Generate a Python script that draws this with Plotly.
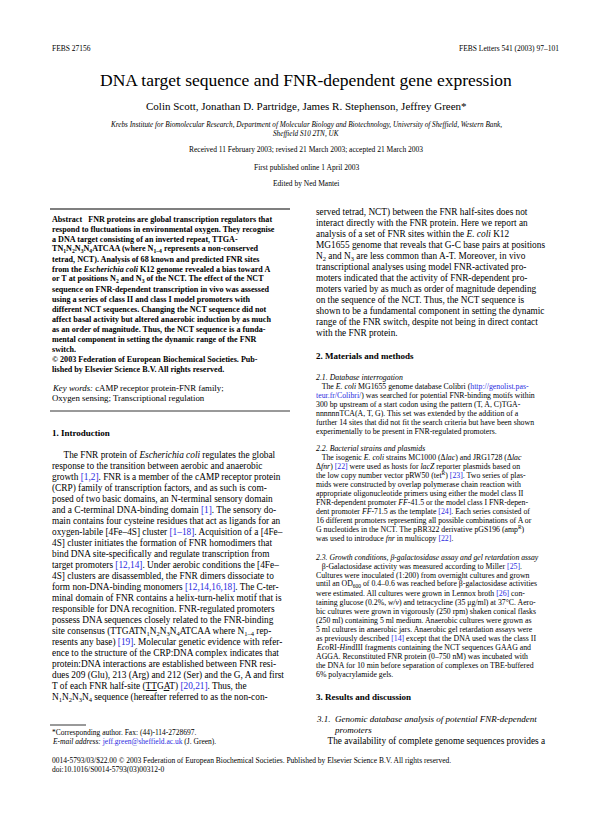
import plotly.graph_objects as go

BLUE = "#2a2ae0"
def L(t):
    return f"<span style='color:{BLUE}'>{t}</span>"
def N4():
    return "N<sub>1</sub>N<sub>2</sub>N<sub>3</sub>N<sub>4</sub>"

header_left = "FEBS 27156"
header_right = "FEBS Letters 541 (2003) 97–101"
title = "DNA target sequence and FNR-dependent gene expression"
authors = "Colin Scott, Jonathan D. Partridge, James R. Stephenson, Jeffrey Green*"
affil = ["<i>Krebs Institute for Biomolecular Research, Department of Molecular Biology and Biotechnology, University of Sheffield, Western Bank,</i>",
         "<i>Sheffield S10 2TN, UK</i>"]
dates = ["Received 11 February 2003; revised 21 March 2003; accepted 21 March 2003",
         "First published online 1 April 2003",
         "Edited by Ned Mantei"]

abstract_lines = [
    "<b>Abstract</b>   <b>FNR proteins are global transcription regulators that</b>",
    "respond to fluctuations in environmental oxygen. They recognise",
    "a DNA target consisting of an inverted repeat, TTGA-",
    "T" + N4() + "ATCAA (where N<sub>1–4</sub> represents a non-conserved",
    "tetrad, NCT). Analysis of 68 known and predicted FNR sites",
    "from the <i>Escherichia coli</i> K12 genome revealed a bias toward A",
    "or T at positions N<sub>2</sub> and N<sub>3</sub> of the NCT. The effect of the NCT",
    "sequence on FNR-dependent transcription in vivo was assessed",
    "using a series of class II and class I model promoters with",
    "different NCT sequences. Changing the NCT sequence did not",
    "affect basal activity but altered anaerobic induction by as much",
    "as an order of magnitude. Thus, the NCT sequence is a funda-",
    "mental component in setting the dynamic range of the FNR",
    "switch.",
    "© 2003 Federation of European Biochemical Societies. Pub-",
    "lished by Elsevier Science B.V. All rights reserved.",
]
keywords = ["<i>Key words:</i> cAMP receptor protein-FNR family;",
            "Oxygen sensing; Transcriptional regulation"]
intro_lines = [
    "     The FNR protein of <i>Escherichia coli</i> regulates the global",
    "response to the transition between aerobic and anaerobic",
    "growth " + L("[1,2]") + ". FNR is a member of the cAMP receptor protein",
    "(CRP) family of transcription factors, and as such is com-",
    "posed of two basic domains, an N-terminal sensory domain",
    "and a C-terminal DNA-binding domain " + L("[1]") + ". The sensory do-",
    "main contains four cysteine residues that act as ligands for an",
    "oxygen-labile [4Fe–4S] cluster " + L("[1–18]") + ". Acquisition of a [4Fe–",
    "4S] cluster initiates the formation of FNR homodimers that",
    "bind DNA site-specifically and regulate transcription from",
    "target promoters " + L("[12,14]") + ". Under aerobic conditions the [4Fe–",
    "4S] clusters are disassembled, the FNR dimers dissociate to",
    "form non-DNA-binding monomers " + L("[12,14,16,18]") + ". The C-ter-",
    "minal domain of FNR contains a helix-turn-helix motif that is",
    "responsible for DNA recognition. FNR-regulated promoters",
    "possess DNA sequences closely related to the FNR-binding",
    "site consensus (TTGAT" + N4() + "ATCAA where N<sub>1–4</sub> rep-",
    "resents any base) " + L("[19]") + ". Molecular genetic evidence with refer-",
    "ence to the structure of the CRP:DNA complex indicates that",
    "protein:DNA interactions are established between FNR resi-",
    "dues 209 (Glu), 213 (Arg) and 212 (Ser) and the G, A and first",
    "T of each FNR half-site (<u>TT</u>G<u>A</u>T) " + L("[20,21]") + ". Thus, the",
    N4() + " sequence (hereafter referred to as the non-con-",
]
footnote = ["*Corresponding author. Fax: (44)-114-2728697.",
            "<i>E-mail address:</i> " + L("jeff.green@sheffield.ac.uk") + " (J. Green)."]
footer = ["0014-5793/03/$22.00 © 2003 Federation of European Biochemical Societies. Published by Elsevier Science B.V. All rights reserved.",
          "doi:10.1016/S0014-5793(03)00312-0"]

right_top = [
    "served tetrad, NCT) between the FNR half-sites does not",
    "interact directly with the FNR protein. Here we report an",
    "analysis of a set of FNR sites within the <i>E. coli</i> K12",
    "MG1655 genome that reveals that G-C base pairs at positions",
    "N<sub>2</sub> and N<sub>3</sub> are less common than A-T. Moreover, in vivo",
    "transcriptional analyses using model FNR-activated pro-",
    "moters indicated that the activity of FNR-dependent pro-",
    "moters varied by as much as order of magnitude depending",
    "on the sequence of the NCT. Thus, the NCT sequence is",
    "shown to be a fundamental component in setting the dynamic",
    "range of the FNR switch, despite not being in direct contact",
    "with the FNR protein.",
]
sec21 = [
    "   The <i>E. coli</i> MG1655 genome database Colibri (" + L("http://genolist.pas-"),
    L("teur.fr/Colibri/") + ") was searched for potential FNR-binding motifs within",
    "300 bp upstream of a start codon using the pattern (T, A, C)TGA-",
    "nnnnnnTCA(A, T, G). This set was extended by the addition of a",
    "further 14 sites that did not fit the search criteria but have been shown",
    "experimentally to be present in FNR-regulated promoters.",
]
sec22 = [
    "   The isogenic <i>E. coli</i> strains MC1000 (Δ<i>lac</i>) and JRG1728 (Δ<i>lac</i>",
    "Δ<i>fnr</i>) " + L("[22]") + " were used as hosts for <i>lacZ</i> reporter plasmids based on",
    "the low copy number vector pRW50 (tet<sup>R</sup>) " + L("[23]") + ". Two series of plas-",
    "mids were constructed by overlap polymerase chain reaction with",
    "appropriate oligonucleotide primers using either the model class II",
    "FNR-dependent promoter <i>FF</i>-41.5 or the model class I FNR-depen-",
    "dent promoter <i>FF</i>-71.5 as the template " + L("[24]") + ". Each series consisted of",
    "16 different promoters representing all possible combinations of A or",
    "G nucleotides in the NCT. The pBR322 derivative pGS196 (amp<sup>R</sup>)",
    "was used to introduce <i>fnr</i> in multicopy " + L("[22]") + ".",
]
sec23 = [
    "   β-Galactosidase activity was measured according to Miller " + L("[25]") + ".",
    "Cultures were inoculated (1:200) from overnight cultures and grown",
    "until an OD<sub>600</sub> of 0.4–0.6 was reached before β-galactosidase activities",
    "were estimated. All cultures were grown in Lennox broth " + L("[26]") + " con-",
    "taining glucose (0.2%, <i>w/v</i>) and tetracycline (35 μg/ml) at 37°C. Aero-",
    "bic cultures were grown in vigorously (250 rpm) shaken conical flasks",
    "(250 ml) containing 5 ml medium. Anaerobic cultures were grown as",
    "5 ml cultures in anaerobic jars. Anaerobic gel retardation assays were",
    "as previously described " + L("[14]") + " except that the DNA used was the class II",
    "<i>Eco</i>RI-<i>Hin</i>dIII fragments containing the NCT sequences GAAG and",
    "AGGA. Reconstituted FNR protein (0–750 nM) was incubated with",
    "the DNA for 10 min before separation of complexes on TBE-buffered",
    "6% polyacrylamide gels.",
]

FONT = "Liberation Serif"
ann = []
def add(x, y, t, s=8.5, anchor="left", color="black"):
    ann.append(dict(x=x, y=y, xref="x", yref="y", text=t, showarrow=False,
                    xanchor=anchor, yanchor="middle",
                    font=dict(family=FONT, size=s, color=color)))

XL, XR = 42, 306
add(XL, 40, header_left, 7.5)
add(553, 40, header_right, 7.5, "right")
add(298, 72, title, 17.5, "center")
add(298, 98, authors, 11, "center")
add(298, 117, affil[0], 7.2, "center")
add(298, 126, affil[1], 7.2, "center")
for y, t in zip([141, 159, 175], dates):
    add(298, y, t, 7.5, "center")

for i, t in enumerate(abstract_lines):
    add(XL, 211 + 10 * i, "<b>" + t + "</b>", 8.1)
for i, t in enumerate(keywords):
    add(XL, 380 + 10 * i, t, 8.8)
add(XL, 425, "<b>1. Introduction</b>", 9)
for i, t in enumerate(intro_lines):
    add(XL, 447 + 11 * i, t, 9.3)
for i, t in enumerate(footnote):
    add(XL, 724 + 9 * i, t, 7.5)
for i, t in enumerate(footer):
    add(XL, 752 + 9 * i, t, 7.5)

for i, t in enumerate(right_top):
    add(XR, 204 + 11 * i, t, 9.3)
add(XR, 348, "<b>2. Materials and methods</b>", 9)
add(XR, 369, "<i>2.1. Database interrogation</i>", 7.8)
for i, t in enumerate(sec21):
    add(XR, 378 + 9 * i, t, 7.8)
add(XR, 440, "<i>2.2. Bacterial strains and plasmids</i>", 7.8)
for i, t in enumerate(sec22):
    add(XR, 449 + 9 * i, t, 7.8)
add(XR, 549, "<i>2.3. Growth conditions, β-galactosidase assay and gel retardation assay</i>", 7.7)
for i, t in enumerate(sec23):
    add(XR, 558 + 9 * i, t, 7.8)
add(XR, 689, "<b>3. Results and discussion</b>", 9)
add(XR, 711, "<i>3.1.  Genomic database analysis of potential FNR-dependent</i>", 9)
add(XR + 18, 722, "<i>promoters</i>", 9)
add(XR, 733, "     The availability of complete genome sequences provides a", 9.3)

shapes = [
    dict(type="line", x0=XL, x1=282, y0=201, y1=201, line=dict(color="black", width=1.2)),
    dict(type="line", x0=XL, x1=282, y0=403, y1=403, line=dict(color="black", width=0.8)),
    dict(type="line", x0=XL, x1=78, y0=717, y1=717, line=dict(color="black", width=0.8)),
]

fig = go.Figure()
fig.update_layout(width=595, height=840, margin=dict(l=0, r=0, t=0, b=0),
                  paper_bgcolor="white", plot_bgcolor="white",
                  xaxis=dict(range=[0, 595], visible=False, fixedrange=True),
                  yaxis=dict(range=[840, 0], visible=False, fixedrange=True),
                  annotations=ann, shapes=shapes, showlegend=False)
fig.write_html("out.html", config={"displayModeBar": False})
